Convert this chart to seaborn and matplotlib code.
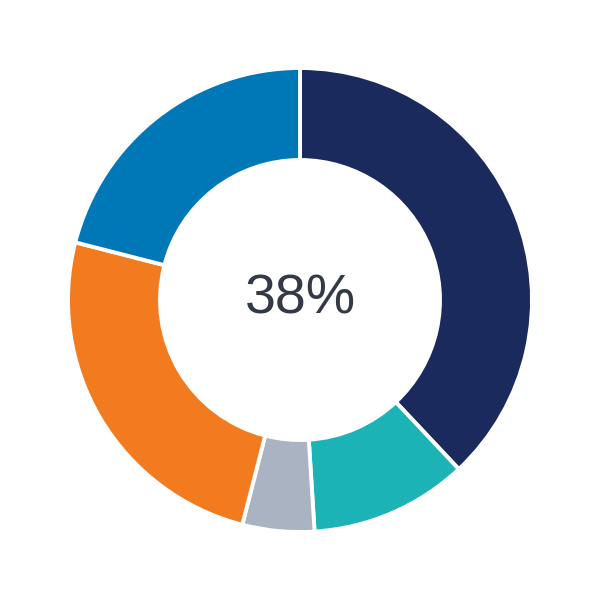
import matplotlib
matplotlib.use("Agg")
import matplotlib.pyplot as plt
import seaborn as sns

categories = ["Navy", "Teal", "Gray", "Orange", "Blue"]
values = [38, 11, 5, 25, 21]
colors = ["#1b2a5c", "#1bb3b6", "#a9b3c1", "#f27b20", "#0077b6"]
center_label = "38%"

sns.set_theme(style="white")
plt.rcParams['font.family'] = ['Liberation Sans', 'DejaVu Sans']

fig = plt.figure(figsize=(6, 6), dpi=100)
r_px = 232
ax = fig.add_axes([0.5 - r_px / 600, 0.5 - r_px / 600, 2 * r_px / 600, 2 * r_px / 600])
pal = sns.color_palette(colors)
ax.pie(values, colors=pal, startangle=90, counterclock=False, radius=1,
       wedgeprops=dict(width=(232 - 140) / 232, edgecolor="white", linewidth=2.8))
ax.set_xlim(-1, 1)
ax.set_ylim(-1, 1)
ax.set_aspect("equal")
ax.axis("off")
ax.text(0, 0, center_label, ha="center", va="center", fontsize=40, color="#333a45")
fig.savefig("out.png", dpi=100)
